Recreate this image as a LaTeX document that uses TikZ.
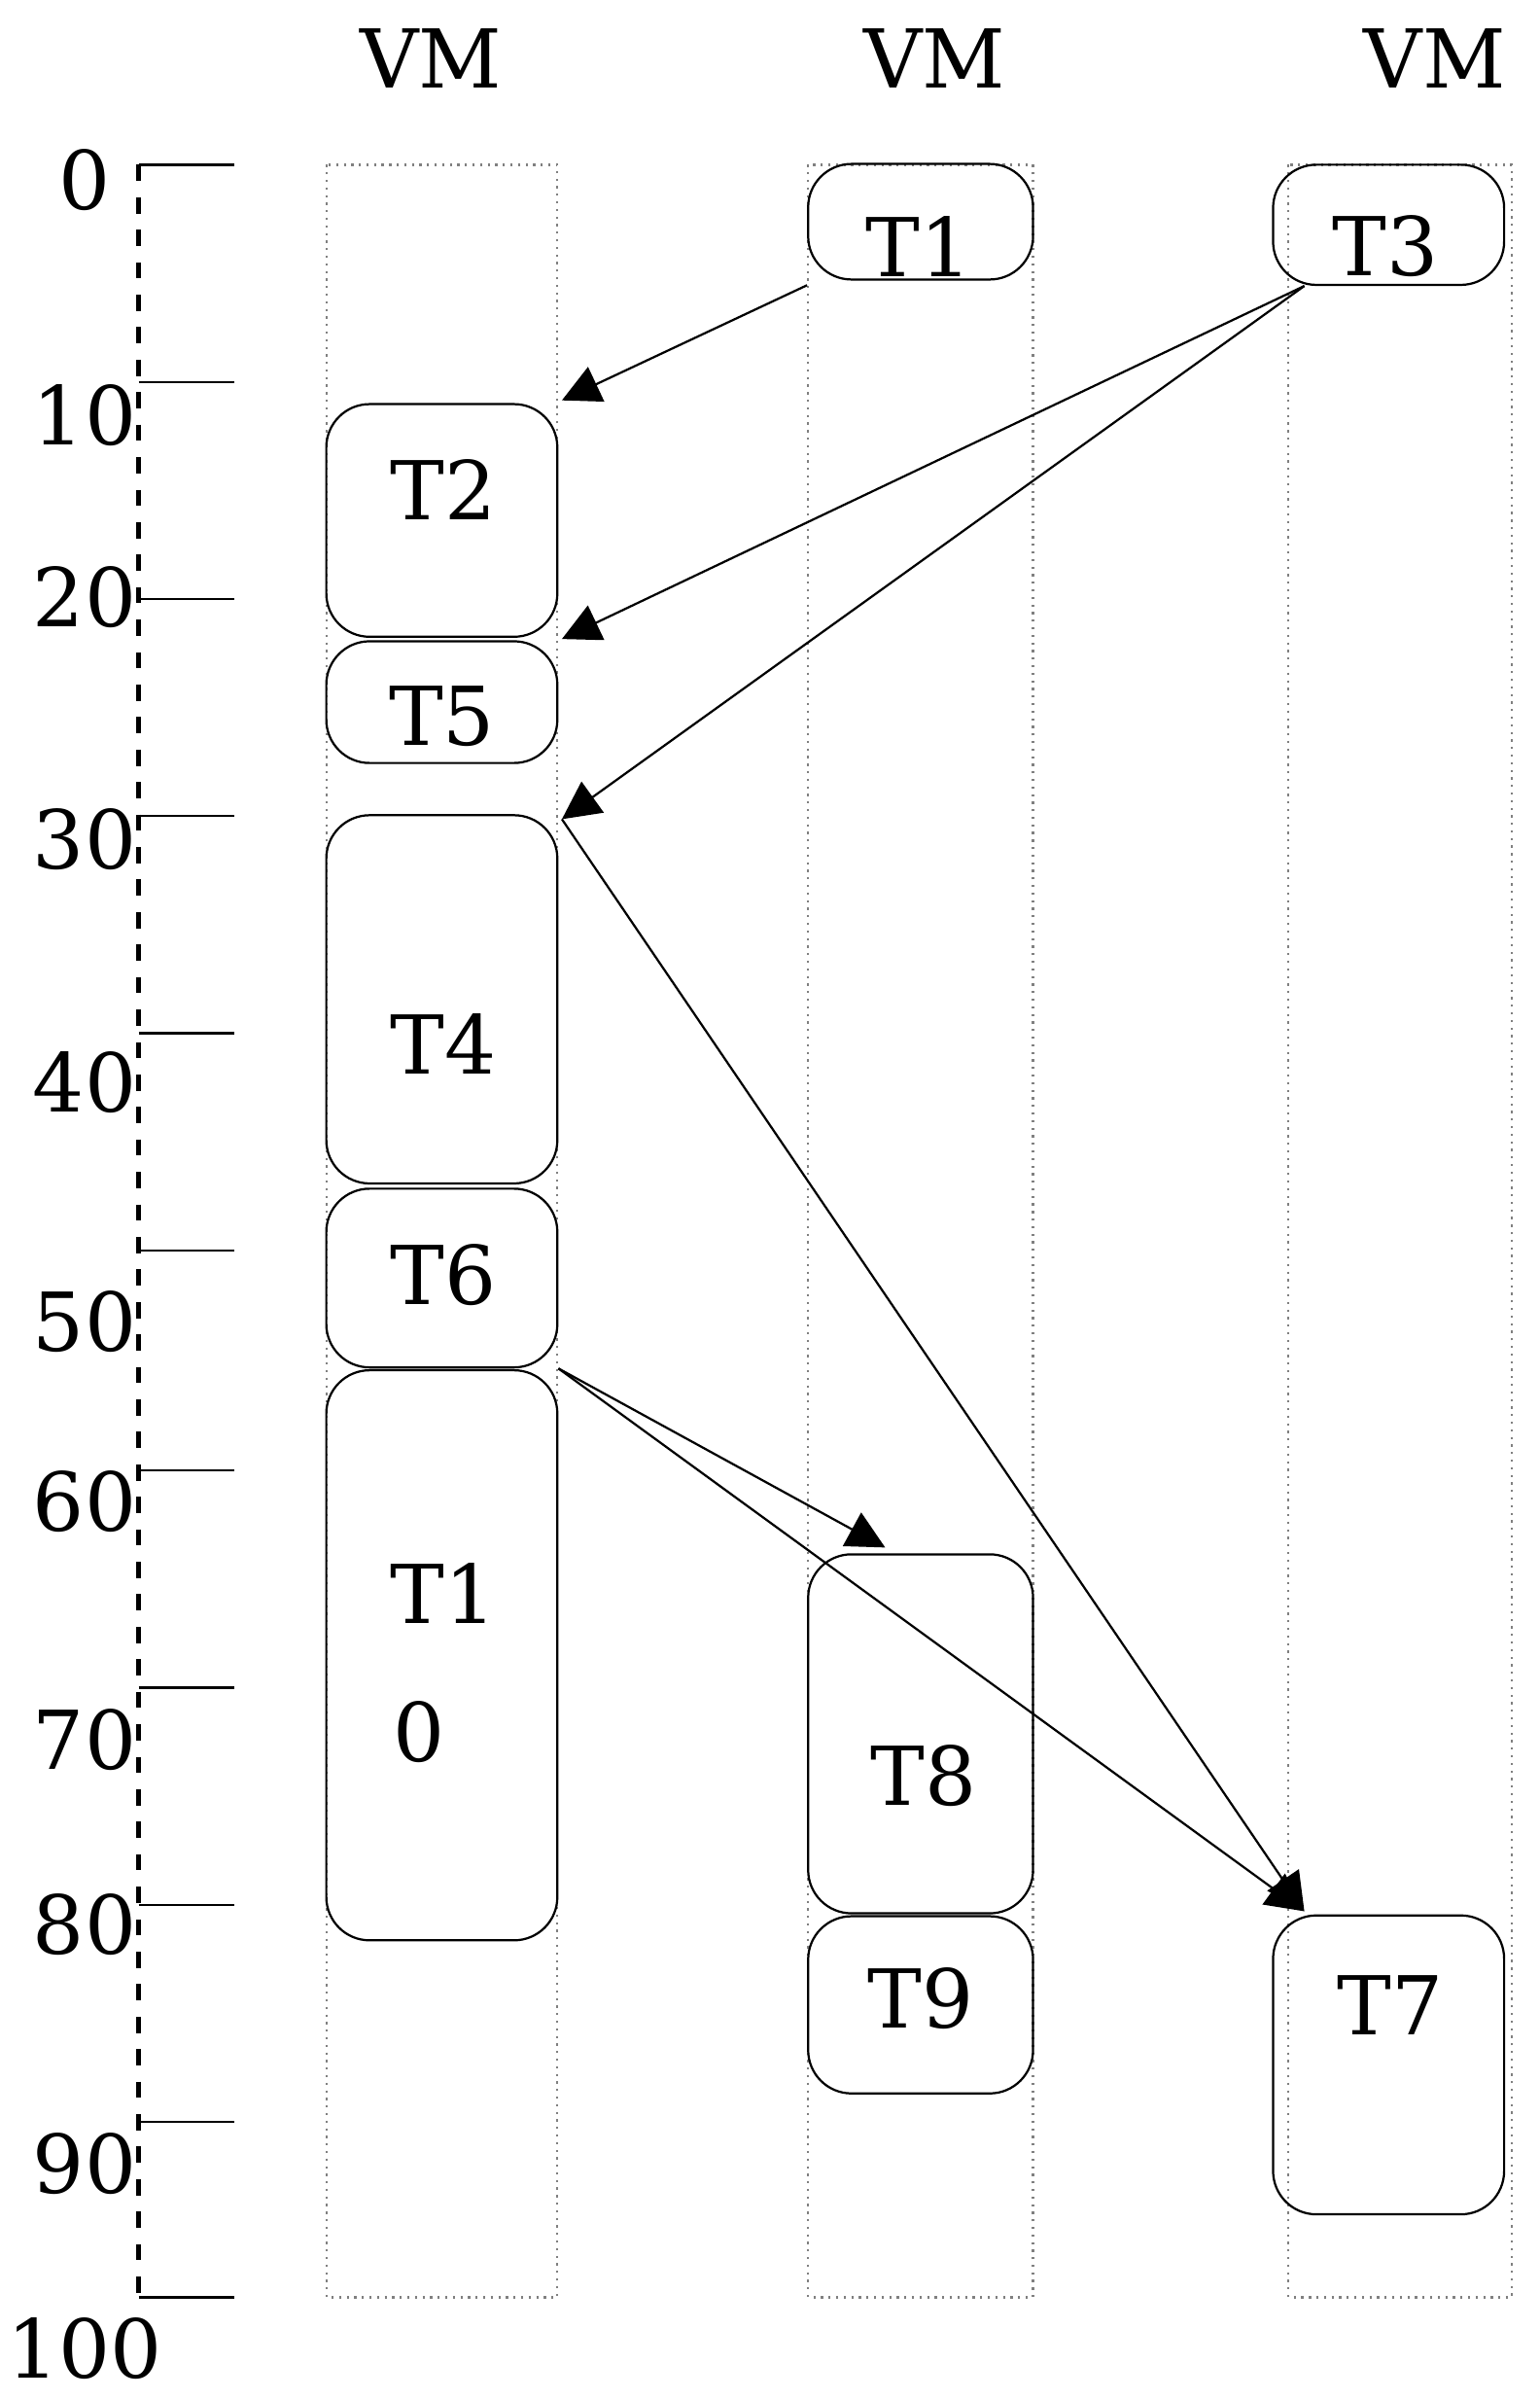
\documentclass[tikz,border=0pt]{standalone}
\usepackage{fontspec}
\setmainfont{DejaVu Serif}
\usetikzlibrary{arrows.meta, calc}
\begin{document}
\begin{tikzpicture}[x=0.01cm, y=-0.01cm,
  task/.style={draw, rounded corners=8pt, inner sep=0pt},
  lbl/.style={font=\fontsize{15}{18}\selectfont},
  lane/.style={draw, gray, densely dotted},
  link/.style={-{Triangle[length=7pt,width=7pt]}, thin}]
\useasboundingbox (0,0) rectangle (1000,1558);

 %%Axis
\draw[dashed, thick] (90,107) -- (90,1492);
\foreach \y/\t/\ty in {107/0/117, 248/10/270, 389/20/388, 530/30/545, 671/40/703,
  812/50/858, 955/60/975, 1096/70/1130, 1237/80/1250, 1378/90/1405, 1492/100/1525}
{
 \draw (90,\y) -- (152,\y);
 \node[lbl] at (55,\ty) {\t};
}

 %% VM lanes
\draw[lane] (212,107) rectangle (362,1492);
\draw[lane] (525,107) rectangle (671,1492);
\draw[lane] (837,107) rectangle (982,1492);
\node[lbl] (vm1) at (280,38) {VM};
\node[lbl] (vm2) at (607,38) {VM};
\node[lbl] (vm3) at (932,38) {VM};

 %% Tasks
\node[task, minimum width=1.46cm, minimum height=0.75cm] (t1) at (598,144) {};
\node[lbl] at (597,160) {T1};
\node[task, minimum width=1.50cm, minimum height=0.78cm] (t3) at (902,146) {};
\node[lbl] at (900,160) {T3};
\node[task, minimum width=1.50cm, minimum height=1.51cm] (t2) at (287,338) {};
\node[lbl] at (288,318) {T2};
\node[task, minimum width=1.50cm, minimum height=0.79cm] (t5) at (287,456) {};
\node[lbl] at (287,465) {T5};
\node[task, minimum width=1.50cm, minimum height=2.39cm] (t4) at (287,649) {};
\node[lbl] at (288,678) {T4};
\node[task, minimum width=1.50cm, minimum height=1.16cm] (t6) at (287,830) {};
\node[lbl] at (288,828) {T6};
\node[task, minimum width=1.50cm, minimum height=3.70cm] (t10) at (287,1075) {};
\node[lbl] at (288,1035) {T1};
\node[lbl] at (272,1125) {0};
\node[task, minimum width=1.46cm, minimum height=2.33cm] (t8) at (598,1126) {};
\node[lbl] at (600,1153) {T8};
\node[task, minimum width=1.46cm, minimum height=1.15cm] (t9) at (598,1302) {};
\node[lbl] at (598,1298) {T9};
\node[task, minimum width=1.50cm, minimum height=1.94cm] (t7) at (902,1341) {};
\node[lbl] at (903,1302) {T7};

 %% Dependencies
\coordinate (a10) at (365,260);
\coordinate (a20) at (365,415);
\coordinate (a30) at (365,532);
\coordinate (a63) at (575,1005);
\draw[link] ($(t1.south west)+(0,3)$) -- (a10);
\draw[link] ($(t3.south west)+(21,0)$) -- (a20);
\draw[link] ($(t3.south west)+(21,0)$) -- (a30);
\draw[link] (a30) -- ($(t7.north west)+(21,-2)$);
\draw[link] (t6.south east) -- (a63);
\draw[link] (t6.south east) -- ($(t7.north west)+(21,-2)$);

 \end{tikzpicture}
\end{document}
